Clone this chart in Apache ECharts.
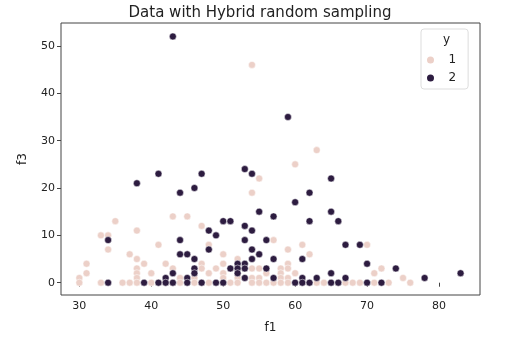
<!DOCTYPE html>
<html>
<head>
<meta charset="utf-8">
<title>Data with Hybrid random sampling</title>
<script src="https://cdn.jsdelivr.net/npm/echarts@6/dist/echarts.min.js"></script>
<style>
  html, body { margin: 0; padding: 0; background: #fff; }
  #main { width: 520px; height: 351px; }
</style>
</head>
<body>
<div id="main"></div>
<script>
  // class y = 1 (light)
  var f1Class1 = [54, 63, 60, 55, 54, 43, 45, 35, 47, 38, 33, 34, 41, 48, 61, 70, 57, 34, 59, 37, 50, 62, 38, 52,
    31, 39, 42, 47, 50, 59,
    38, 43, 47, 49, 54, 55, 58, 59, 72,
    31, 38, 40, 48, 50, 56, 58, 60, 71,
    30, 38, 44, 46, 50, 52, 54, 55, 58, 59, 75,
    30, 33, 36, 37, 38, 40, 41, 42, 43, 44, 46, 47, 48, 50, 51, 52, 54, 55, 56, 57, 58, 59, 61, 63, 64, 66, 67, 68, 69, 71, 73, 76];
  var f3Class1 = [46, 28, 25, 22, 19, 14, 14, 13, 12, 11, 10, 10, 8, 8, 8, 8, 9, 7, 7, 6, 6, 6, 5, 5,
    4, 4, 4, 4, 4, 4,
    3, 3, 3, 3, 3, 3, 3, 3, 3,
    2, 2, 2, 2, 2, 2, 2, 2, 2,
    1, 1, 1, 1, 1, 1, 1, 1, 1, 1, 1,
    0, 0, 0, 0, 0, 0, 0, 0, 0, 0, 0, 0, 0, 0, 0, 0, 0, 0, 0, 0, 0, 0, 0, 0, 0, 0, 0, 0, 0, 0, 0, 0];

  // class y = 2 (dark)
  var f1Class2 = [43, 59, 41, 47, 53, 54, 38, 44, 46, 65, 62, 60, 55, 57, 65, 50, 51, 62, 66, 53, 48, 54, 49,
    34, 44, 53, 56, 67, 69, 48, 54, 44, 45, 55, 46, 54, 57, 61, 53, 52, 70,
    46, 51, 52, 53, 56, 74, 43, 46, 52, 65, 83,
    42, 45, 53, 57, 61, 63, 67, 78,
    34, 39, 41, 42, 43, 45, 47, 49, 50, 60, 61, 62, 65, 66, 70, 72];
  var f3Class2 = [52, 35, 23, 23, 24, 23, 21, 19, 20, 22, 19, 17, 15, 14, 15, 13, 13, 13, 13, 12, 11, 11, 10,
    9, 9, 9, 9, 8, 8, 7, 7, 6, 6, 6, 5, 5, 5, 5, 4, 4, 4,
    3, 3, 3, 3, 3, 3, 2, 2, 2, 2, 2,
    1, 1, 1, 1, 1, 1, 1, 1,
    0, 0, 0, 0, 0, 0, 0, 0, 0, 0, 0, 0, 0, 0, 0, 0];

  var xTicks = [30, 40, 50, 60, 70, 80];
  var yTicks = [0, 10, 20, 30, 40, 50];

  function pairs(xs, ys) {
    var out = [];
    for (var i = 0; i < xs.length; i++) out.push([xs[i], ys[i]]);
    return out;
  }

  var FONT = 'DejaVu Sans';
  var myChart = echarts.init(document.getElementById('main'));

  var option = {
    animation: false,
    textStyle: { fontFamily: FONT },
    title: {
      text: 'Data with Hybrid random sampling',
      left: 'center',
      top: 1,
      textStyle: { fontFamily: FONT, fontSize: 15, fontWeight: 'normal', color: '#222' }
    },
    grid: {
      left: 61, right: 40, top: 23, bottom: 56,
      show: true, borderColor: '#444', borderWidth: 1
    },
    legend: {
      orient: 'vertical',
      left: 421, top: 29,
      padding: [25, 12, 5, 4],
      itemWidth: 26, itemHeight: 9, itemGap: 6,
      icon: 'circle',
      backgroundColor: 'rgba(255,255,255,0.8)',
      borderColor: '#ddd', borderWidth: 1, borderRadius: 3,
      textStyle: { fontFamily: FONT, fontSize: 12, color: '#222', lineHeight: 12 },
      data: ['1', '2']
    },
    graphic: [{
      type: 'text', left: 443, top: 34, z: 100,
      style: { text: 'y', font: '12px "DejaVu Sans"', fill: '#222' }
    }],
    xAxis: {
      type: 'value',
      min: 27.45, max: 85.7,
      name: 'f1', nameLocation: 'middle', nameGap: 27,
      nameTextStyle: { fontFamily: FONT, fontSize: 12, color: '#222' },
      axisLine: { show: false },
      axisTick: { show: true, length: 4, lineStyle: { color: '#444' }, customValues: xTicks },
      axisLabel: { fontFamily: FONT, fontSize: 11, color: '#222', margin: 6, customValues: xTicks },
      splitLine: { show: false }
    },
    yAxis: {
      type: 'value',
      min: -2.6, max: 54.85,
      name: 'f3', nameLocation: 'middle', nameGap: 32,
      nameTextStyle: { fontFamily: FONT, fontSize: 12, color: '#222' },
      axisLine: { show: false },
      axisTick: { show: true, length: 4, lineStyle: { color: '#444' }, customValues: yTicks },
      axisLabel: { fontFamily: FONT, fontSize: 11, color: '#222', margin: 6, customValues: yTicks },
      splitLine: { show: false }
    },
    series: [{
      name: '1',
      type: 'scatter',
      symbolSize: 7,
      itemStyle: { color: '#ecd0c8', borderColor: '#fff', borderWidth: 0.5, opacity: 1 },
      data: pairs(f1Class1, f3Class1)
    }, {
      name: '2',
      type: 'scatter',
      symbolSize: 7,
      itemStyle: { color: '#2d1c40', borderColor: '#fff', borderWidth: 0.5, opacity: 1 },
      data: pairs(f1Class2, f3Class2)
    }]
  };

  myChart.setOption(option);
</script>
</body>
</html>
